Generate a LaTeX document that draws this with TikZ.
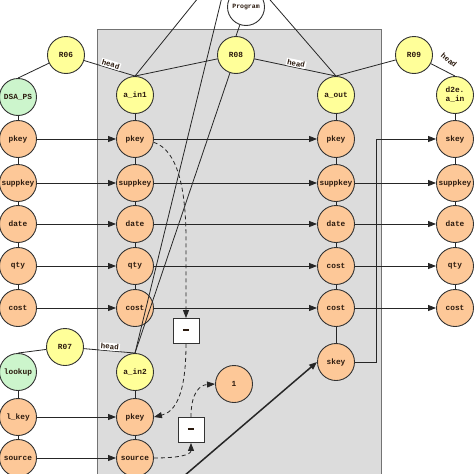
\documentclass[tikz,border=0pt]{standalone}
\usepackage{fontspec}
\setmonofont{Liberation Mono}
\usetikzlibrary{arrows.meta}
\definecolor{peach}{HTML}{FDC898}
\definecolor{ylw}{HTML}{FFFF99}
\definecolor{grn}{HTML}{CCF5CC}
\definecolor{bggray}{HTML}{DCDCDC}
\definecolor{txt}{HTML}{2B1A0E}
\tikzset{
 base/.style={circle, draw=black!80, line width=0.9pt, minimum size=37pt, inner sep=0pt, font=\ttfamily\bfseries\fontsize{7.8}{9}\selectfont, text=txt},
 fld/.style={base, fill=peach},
 rel/.style={base, fill=ylw},
 tbl/.style={base, fill=grn},
 prog/.style={base, fill=white, font=\ttfamily\bfseries\fontsize{6.5}{7}\selectfont},
 op/.style={rectangle, draw=black!80, fill=white, line width=0.9pt, minimum width=26pt, minimum height=25pt, inner sep=0pt, text=txt},
 ln/.style={line width=0.8pt, draw=black!85},
 arr/.style={ln, -{Triangle[length=8pt,width=6pt]}},
 darr/.style={arr, dash pattern=on 4pt off 3pt},
 hdtext/.style={fill=white, inner sep=1pt, font=\ttfamily\bfseries\fontsize{7.5}{8}\selectfont, text=txt},
 hd/.style={hdtext, sloped, above},
}
\begin{document}
\begin{tikzpicture}[x=1pt, y=-1pt]
\useasboundingbox (0,0) rectangle (474,474);
\clip (0,0) rectangle (474,474);
\fill[white] (0,0) rectangle (474,474);
\draw[fill=bggray, draw=black!55, line width=0.9pt] (97,29) rectangle (381,490);

% top nodes
\coordinate (top) at (232,-44);
\coordinate (src) at (170,488);
\node[prog] (Prog) at (246,7) {Program};
\node[rel] (R06) at (66,55) {R06};
\node[rel] (R08) at (236,55) {R08};
\node[rel] (R09) at (414,55) {R09};
\node[rel] (R07) at (65,347) {R07};

% left column
\node[tbl] (DSA) at (18,97) {DSA\_PS};
\node[fld] (Lpkey) at (18,139) {pkey};
\node[fld] (Lsupp) at (18,183) {suppkey};
\node[fld] (Ldate) at (18,224) {date};
\node[fld] (Lqty) at (18,266) {qty};
\node[fld] (Lcost) at (18,308) {cost};
\node[tbl] (look) at (18,372) {lookup};
\node[fld] (Llkey) at (18,417) {l\_key};
\node[fld] (Lsrc) at (18,458) {source};

% a_in column
\node[rel] (Ain1) at (135,95) {a\_in1};
\node[fld] (Apkey) at (135,139) {pkey};
\node[fld] (Asupp) at (135,183) {suppkey};
\node[fld] (Adate) at (135,224) {date};
\node[fld] (Aqty) at (135,266) {qty};
\node[fld] (Acost) at (135,308) {cost};
\node[rel] (Ain2) at (135,372) {a\_in2};
\node[fld] (Bpkey) at (135,417) {pkey};
\node[fld] (Bsrc) at (135,458) {source};

% a_out column
\node[rel] (Oout) at (336,95) {a\_out};
\node[fld] (Opkey) at (336,139) {pkey};
\node[fld] (Osupp) at (336,183) {suppkey};
\node[fld] (Odate) at (336,224) {date};
\node[fld] (Ocosta) at (336,266) {cost};
\node[fld] (Ocostb) at (336,308) {cost};
\node[fld] (Oskey) at (336,362) {skey};

% right column
\node[rel, align=center] (Rd2e) at (455,95) {d2e.\\[0pt]a\_in};
\node[fld] (Rskey) at (455,139) {skey};
\node[fld] (Rsupp) at (455,183) {suppkey};
\node[fld] (Rdate) at (455,224) {date};
\node[fld] (Rqty) at (455,266) {qty};
\node[fld] (Rcost) at (455,308) {cost};

% operators
\node[op] (m1) at (186,331) {\rule[2.5pt]{6.5pt}{1.5pt}};
\node[op] (m2) at (191,430) {\rule[2.5pt]{6.5pt}{1.5pt}};
\node[fld] (one) at (234,384) {1};

% tree edges
\draw[ln] (top) -- (Ain1.north);
\draw[ln] (top) -- (Ain2.north);
\draw[ln] (top) -- (Oout.north);
\draw[ln] (Prog) -- (R08.north);
\draw[ln] (R06) -- (DSA.north);
\draw[ln] (R06) -- (Ain1.north) node[hd, pos=0.5] {head};
\draw[ln] (R08) -- (Ain1.north);
\draw[ln] (R08) -- (Ain2.north);
\draw[ln] (R08) -- (Oout.north) node[hd, pos=0.5] {head};
\draw[ln] (R09) -- (Oout.north);
\draw[ln] (R09) -- (Rd2e.north);
\node[hdtext, rotate=-40] (hR09) at (449,60) {head};
\draw[ln] (R07) -- (look.north);
\draw[ln] (R07) -- (Ain2.north) node[hd, pos=0.5] {head};

% column links
\draw[ln] (DSA) -- (Lpkey) -- (Lsupp) -- (Ldate) -- (Lqty) -- (Lcost);
\draw[ln] (look) -- (Llkey) -- (Lsrc);
\draw[ln] (Ain1) -- (Apkey) -- (Asupp) -- (Adate) -- (Aqty) -- (Acost);
\draw[ln] (Ain2) -- (Bpkey) -- (Bsrc);
\draw[ln] (Oout) -- (Opkey) -- (Osupp) -- (Odate) -- (Ocosta) -- (Ocostb) -- (Oskey);
\draw[ln] (Rd2e) -- (Rskey) -- (Rsupp) -- (Rdate) -- (Rqty) -- (Rcost);

% data flow
\draw[arr] (Lpkey) -- (Apkey);
\draw[arr] (Lsupp) -- (Asupp);
\draw[arr] (Ldate) -- (Adate);
\draw[arr] (Lqty) -- (Aqty);
\draw[arr] (Lcost) -- (Acost);
\draw[arr] (Llkey) -- (Bpkey);
\draw[arr] (Lsrc) -- (Bsrc);
\draw[arr] (Apkey) -- (Opkey);
\draw[arr] (Asupp) -- (Osupp);
\draw[arr] (Adate) -- (Odate);
\draw[arr] (Aqty) -- (Ocosta);
\draw[arr] (Acost) -- (Ocostb);
\draw[arr] (Osupp) -- (Rsupp);
\draw[arr] (Odate) -- (Rdate);
\draw[arr] (Ocosta) -- (Rqty);
\draw[arr] (Ocostb) -- (Rcost);
\draw[arr] (Oskey.east) -- (376,362) |- (Rskey.west);
\draw[arr, line width=1.5pt] (src) -- (Oskey.west);

% dashed
\draw[darr] (Apkey.-10) .. controls (178,150) and (186,190) .. (186,240) -- (m1.north);
\draw[darr] (m1.south) .. controls (186,395) and (175,412) .. (Bpkey.east);
\draw[darr] (Bsrc.east) .. controls (178,458) and (191,455) .. (m2.south);
\draw[darr] (m2.north) .. controls (191,392) and (200,385) .. (one.west);
\end{tikzpicture}
\end{document}
